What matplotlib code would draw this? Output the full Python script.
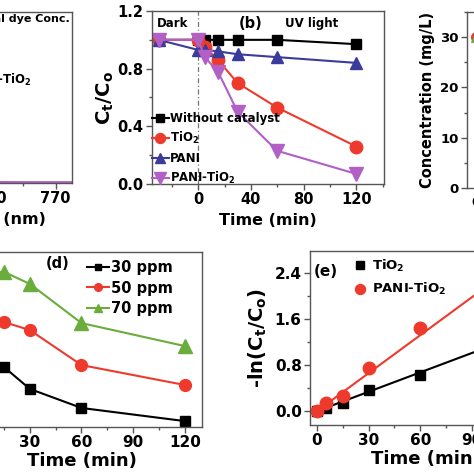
import matplotlib
matplotlib.use("Agg")
import matplotlib.pyplot as plt
from matplotlib.ticker import MultipleLocator

plt.rcParams["font.family"] = ["DejaVu Sans"]
plt.rcParams["font.weight"] = "bold"
plt.rcParams["axes.labelweight"] = "bold"
plt.rcParams["mathtext.fontset"] = "dejavusans"
plt.rcParams["mathtext.default"] = "bf"

BLACK = "#000000"
RED = "#ee3a2c"
BLUE = "#3b3b9c"
PURPLE = "#b25fc6"
GREEN = "#6aad3c"
SPINE = "#555555"

# (a) spectrum tail visible at the right edge
wl = [560, 620, 680, 740, 790]
absorb = [0.01, 0.008, 0.006, 0.005, 0.005]

# (b) Ct/C0 vs time
t_b = [-30, 0, 5, 15, 30, 60, 120]
no_cat = [1.0, 1.0, 1.0, 1.0, 1.0, 1.0, 0.97]
tio2 = [1.0, 1.0, 0.95, 0.86, 0.70, 0.53, 0.26]
pani = [1.0, 0.93, 0.93, 0.92, 0.90, 0.88, 0.84]
pani_tio2 = [1.0, 1.0, 0.88, 0.78, 0.50, 0.23, 0.07]

# (c) only the first points are visible
t_c = [0]
conc_c_red = [30]
conc_c_green = [30]

# (d) concentration for three initial doses
t_d = [0, 5, 15, 30, 60, 120]
ppm30 = [30, 29, 27.4, 17.4, 8.7, 2.7]
ppm50 = [50, 49, 48, 44.3, 28.3, 19.2]
ppm70 = [70, 70.5, 70.9, 65.4, 47.5, 37]

# (e) kinetics
t_e = [0, 5, 15, 30, 60]
k_tio2 = [0.0, 0.05, 0.14, 0.36, 0.62]
k_pani_tio2 = [0.0, 0.15, 0.27, 0.75, 1.45]
fit_t = [0, 130]
fit_tio2 = [0.0, 1.46]
fit_pani_tio2 = [0.0, 2.86]

W = H = 474
fig = plt.figure(figsize=(4.74, 4.74), dpi=100)


def px_axes(x0, y0, x1, y1):
    return fig.add_axes([x0 / W, 1 - y1 / H, (x1 - x0) / W, (y1 - y0) / H])


def style(ax, size=10.5):
    for s in ax.spines.values():
        s.set_color(SPINE)
        s.set_linewidth(1.0)
    ax.tick_params(which="major", direction="out", length=4, width=1,
                   labelsize=size, color=SPINE, pad=2)
    ax.tick_params(which="minor", direction="out", length=2.5, width=1,
                   color=SPINE)
    for lab in ax.get_xticklabels() + ax.get_yticklabels():
        lab.set_fontweight("bold")


# ---- (a) ----
ax_a = px_axes(-137, 12, 72, 183)
ax_a.plot(wl, absorb, color=PURPLE, lw=1.5)
ax_a.set_xlim(560, 788)
ax_a.set_ylim(0, 1)
ax_a.set_xticks([630, 700, 770])
ax_a.xaxis.set_minor_locator(MultipleLocator(35))
ax_a.set_yticks([])
ax_a.set_xlabel("Wavelength (nm)", fontsize=11.5, labelpad=4)
ax_a.text(0.99, 0.99, "Initial dye Conc.", transform=ax_a.transAxes,
          ha="right", va="top", fontsize=8)
ax_a.text(0.81, 0.60, "PANI-TiO$_2$", transform=ax_a.transAxes,
          ha="right", va="center", fontsize=8.5)
style(ax_a)

# ---- (b) ----
ax_b = px_axes(152, 11, 384, 184)
ax_b.axvline(0, color="#777777", lw=0.9, ls=(0, (4, 2, 1, 2)))
ax_b.plot(t_b, no_cat, "-s", color=BLACK, ms=6.5, lw=1.5, label="Without catalyst")
ax_b.plot(t_b, tio2, "-o", color=RED, ms=9, lw=1.5, label="TiO$_2$")
ax_b.plot(t_b, pani, "-^", color=BLUE, ms=9, lw=1.5, label="PANI")
ax_b.plot(t_b, pani_tio2, "-v", color=PURPLE, ms=10, lw=1.5, label="PANI-TiO$_2$")
ax_b.set_xlim(-35, 141)
ax_b.set_ylim(0, 1.2)
ax_b.set_xticks([0, 40, 80, 120])
ax_b.xaxis.set_minor_locator(MultipleLocator(20))
ax_b.set_yticks([0.0, 0.4, 0.8, 1.2])
ax_b.yaxis.set_minor_locator(MultipleLocator(0.2))
ax_b.set_xlabel("Time (min)", fontsize=11.5, labelpad=4)
ax_b.set_ylabel("C$_t$/C$_o$", fontsize=14, labelpad=1)
ax_b.text(0.02, 0.93, "Dark", transform=ax_b.transAxes, ha="left",
          va="center", fontsize=8.5)
ax_b.text(0.425, 0.93, "(b)", transform=ax_b.transAxes, ha="center",
          va="center", fontsize=10.5)
ax_b.text(0.575, 0.93, "UV light", transform=ax_b.transAxes, ha="left",
          va="center", fontsize=8.5)
ax_b.legend(loc="lower left", bbox_to_anchor=(-0.02, -0.04), frameon=False,
            fontsize=8.5, handlelength=1.4, handletextpad=0.1, labelspacing=0.45,
            markerscale=0.8, borderaxespad=0)
style(ax_b)

# ---- (c) ----
ax_c = px_axes(467, 12, 700, 188)
ax_c.plot(t_c, conc_c_red, "o", color=RED, ms=7)
ax_c.plot(t_c, conc_c_green, "^", color=GREEN, ms=7, alpha=0.8)
ax_c.set_xlim(-5, 125)
ax_c.set_ylim(0, 35)
ax_c.set_xticks([0, 30, 60, 90, 120])
ax_c.set_yticks([0, 10, 20, 30])
ax_c.yaxis.set_minor_locator(MultipleLocator(5))
ax_c.set_ylabel("Concentration (mg/L)", fontsize=10.5, labelpad=4)
style(ax_c, 9.5)

# ---- (d) ----
ax_d = px_axes(-39, 252, 202, 427)
ax_d.plot(t_d, ppm30, "-s", color=BLACK, ms=7.5, lw=1.5, label="30 ppm")
ax_d.plot(t_d, ppm50, "-o", color=RED, ms=8.5, lw=1.5, label="50 ppm")
ax_d.plot(t_d, ppm70, "-^", color=GREEN, ms=9.5, lw=1.5, label="70 ppm")
ax_d.set_xlim(-10, 130)
ax_d.set_ylim(0, 80)
ax_d.set_xticks([0, 30, 60, 90, 120])
ax_d.xaxis.set_minor_locator(MultipleLocator(15))
ax_d.set_yticks([])
ax_d.set_xlabel("Time (min)", fontsize=13, labelpad=1)
ax_d.text(0.40, 0.935, "(d)", transform=ax_d.transAxes, ha="center",
          va="center", fontsize=10.5)
ax_d.legend(loc="upper left", bbox_to_anchor=(0.5, 0.985), frameon=False,
            fontsize=10.5, handlelength=1.5, handletextpad=0.15,
            labelspacing=0.35, markerscale=0.65, borderaxespad=0)
style(ax_d, 11)

# ---- (e) ----
ax_e = px_axes(310, 251, 541, 425)
ax_e.plot(fit_t, fit_tio2, "-", color=BLACK, lw=1.5)
ax_e.plot(fit_t, fit_pani_tio2, "-", color=RED, lw=1.5)
ax_e.plot(t_e, k_tio2, "s", color=BLACK, ms=7.5, label="TiO$_2$")
ax_e.plot(t_e, k_pani_tio2, "o", color=RED, ms=9, label="PANI-TiO$_2$")
ax_e.set_xlim(-4, 130)
ax_e.set_ylim(-0.24, 2.78)
ax_e.set_xticks([0, 30, 60, 90, 120])
ax_e.xaxis.set_minor_locator(MultipleLocator(15))
ax_e.set_yticks([0.0, 0.8, 1.6, 2.4])
ax_e.yaxis.set_minor_locator(MultipleLocator(0.4))
ax_e.set_xlabel("Time (min)", fontsize=13, labelpad=1)
ax_e.set_ylabel("-ln(C$_t$/C$_o$)", fontsize=14, labelpad=4)
ax_e.text(0.07, 0.885, "(e)", transform=ax_e.transAxes, ha="center",
          va="center", fontsize=11)
ax_e.legend(loc="upper left", bbox_to_anchor=(0.17, 0.99), frameon=False,
            fontsize=9.5, handlelength=0.8, handletextpad=0.5,
            labelspacing=0.55, markerscale=0.8, borderaxespad=0)
style(ax_e, 11)

fig.savefig("out.png", dpi=100)
